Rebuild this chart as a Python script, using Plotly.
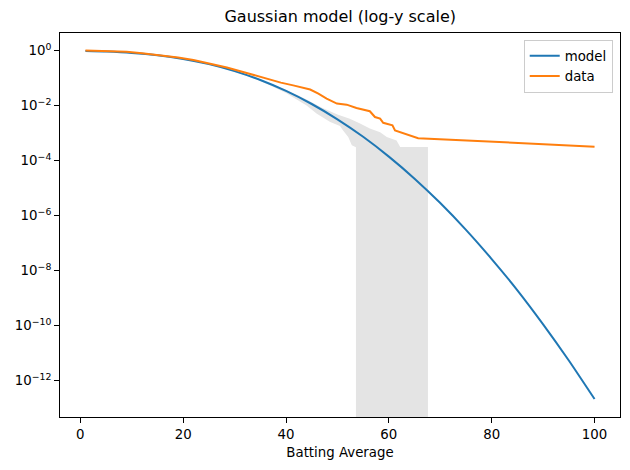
import plotly.graph_objects as go

# ---- data ----
model_x = [1, 5, 10, 15, 20, 25, 30, 35, 40, 45, 50, 55, 60, 65, 70, 75, 80, 85, 90, 95, 100]
model_y = [0.955, 0.909, 0.811, 0.666, 0.491, 0.318, 0.177, 0.0841, 0.0337, 0.0113,
           3.14e-3, 7.26e-4, 1.38e-4, 2.18e-5, 2.83e-6, 3.0e-7, 2.6e-8, 1.9e-9,
           1.1e-10, 5.3e-12, 2.1e-13]

data_x = [1, 5, 9, 12, 15.5, 19, 22, 25, 28.5, 32, 34.9, 36.9, 39, 41.4, 43, 44.7,
          46.3, 47.9, 49.9, 51.8, 53.7, 56.3, 57.3, 58.3, 58.9, 60.7, 61.2, 65.7, 100]
data_y = [1.0, 0.955, 0.891, 0.794, 0.676, 0.550, 0.447, 0.339, 0.240, 0.158, 0.110,
          0.0832, 0.0676, 0.0537, 0.0457, 0.0380, 0.0269, 0.0178, 0.0117, 0.0107,
          0.00813, 0.00617, 0.00380, 0.00331, 0.00234, 0.00191, 0.00123, 0.000646,
          0.000316]

# simulation band (5th / 95th percentile), log10 values
band_upper_x = [25, 30, 35, 40, 44, 47, 50, 52.4, 54.4, 56.3, 58.3, 59.6, 61.5, 62.2, 67.6, 67.6]
band_upper_log10 = [-0.49, -0.74, -1.05, -1.43, -1.78, -2.08, -2.33, -2.48, -2.66, -2.84,
                    -2.97, -3.15, -3.27, -3.51, -3.51, -16]
band_lower_x = [53.6, 53.6, 52.8, 52.1, 51.1, 50.5, 48.6, 46, 44, 40, 35, 30, 25]
band_lower_log10 = [-16, -3.52, -3.45, -3.15, -2.91, -2.75, -2.6, -2.3, -2.0, -1.55,
                    -1.1, -0.77, -0.51]

ytick_exp = [0, -2, -4, -6, -8, -10, -12]
xtick_vals = [0, 20, 40, 60, 80, 100]

band_x = band_upper_x + band_lower_x
band_y = [10 ** v for v in band_upper_log10 + band_lower_log10]

fig = go.Figure()
fig.add_trace(go.Scatter(
    x=band_x, y=band_y, fill="toself", fillcolor="#e4e4e4",
    line=dict(width=0, color="#e4e4e4"), mode="lines", showlegend=False,
    hoverinfo="skip"))
fig.add_trace(go.Scatter(
    x=model_x, y=model_y, mode="lines", name="model",
    line=dict(color="#1f77b4", width=2, shape="spline", smoothing=0.6)))
fig.add_trace(go.Scatter(
    x=data_x, y=data_y, mode="lines", name="data",
    line=dict(color="#ff7f0e", width=2)))

font_family = "DejaVu Sans"
fs = 13.33
fig.update_layout(
    width=630, height=470,
    margin=dict(l=60, r=10, t=33, b=53),
    paper_bgcolor="white", plot_bgcolor="white",
    font=dict(family=font_family, size=fs, color="black"),
    title=dict(text="Gaussian model (log-y scale)", x=0.54, xanchor="center",
               y=0.965, yanchor="middle", font=dict(size=16, family=font_family)),
    showlegend=True,
    legend=dict(x=0.987, y=0.983, xanchor="right", yanchor="top",
                bgcolor="rgba(255,255,255,0.8)", bordercolor="#cccccc", borderwidth=1,
                font=dict(size=fs, family=font_family), tracegroupgap=0,
                itemwidth=30),
)
fig.update_xaxes(
    range=[-3.95, 104.95], tickvals=xtick_vals, ticks="outside", ticklen=5,
    tickcolor="black", showline=True, linecolor="black", linewidth=1, mirror=True,
    showgrid=False, zeroline=False,
    title=dict(text="Batting Average", font=dict(size=fs, family=font_family), standoff=6),
    tickfont=dict(size=fs, family=font_family))
fig.update_yaxes(
    type="log", range=[-13.33, 0.635],
    tickvals=[10 ** e for e in ytick_exp],
    ticktext=["10<sup>%s</sup>" % (str(e).replace("-", "\u2212")) for e in ytick_exp],
    ticks="outside", ticklen=5, tickcolor="black", showline=True, linecolor="black",
    linewidth=1, mirror=True, showgrid=False, zeroline=False,
    tickfont=dict(size=fs, family=font_family))

fig.write_html("out.html")
